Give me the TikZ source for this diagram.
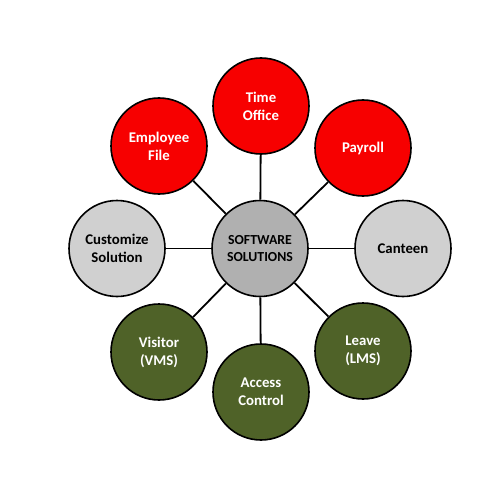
\documentclass[tikz,border=0pt]{standalone}
\usepackage{fontspec}
\setmainfont{Carlito}
\definecolor{cred}{HTML}{F70000}
\definecolor{cgray}{HTML}{D0D0D0}
\definecolor{ccenter}{HTML}{B0B0B0}
\definecolor{cgreen}{HTML}{4F6228}
\begin{document}
\begin{tikzpicture}[x=1pt,y=-1pt,
  bubble/.style={circle,draw=black,line width=1.6pt,minimum size=96pt,inner sep=0pt,align=center,font=\fontsize{14.8}{18}\selectfont\bfseries},
  redb/.style={bubble,fill=cred,text=white},
  grayb/.style={bubble,fill=cgray,text=black},
  greenb/.style={bubble,fill=cgreen,text=white},
  centerb/.style={bubble,fill=ccenter,text=black,font=\fontsize{13.8}{16.5}\selectfont\bfseries},
  link/.style={draw=black,line width=1.8pt}]
\useasboundingbox (0,0) rectangle (500,500);
\node[centerb] (c) at (260,248.5) {SOFTWARE\\SOLUTIONS};
\node[redb] (time) at (261,106) {Time\\Office};
\node[redb] (pay) at (363,148) {Payroll};
\node[grayb] (can) at (403,248.5) {Canteen};
\node[greenb] (leave) at (363,351) {Leave\\(LMS)};
\node[greenb] (acc) at (261,392) {Access\\Control};
\node[greenb] (vis) at (159,352) {Visitor\\(VMS)};
\node[grayb] (cust) at (117,248.5) {Customize\\Solution};
\node[redb] (emp) at (159,146) {Employee\\File};
\foreach \n in {time,pay,can,leave,acc,vis,cust,emp}{\path[link] (c) -- (\n);}
\end{tikzpicture}
\end{document}
